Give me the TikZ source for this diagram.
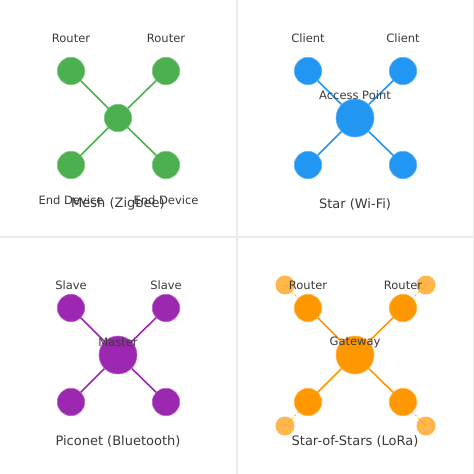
\documentclass[tikz,border=0pt]{standalone}
\usepackage{fontspec}
\setmainfont{DejaVu Sans}
\pgfdeclarelayer{back}
\pgfdeclarelayer{links}
\pgfsetlayers{back,links,main}
\begin{document}
\begin{tikzpicture}[x=1pt,y=-1pt,
  dev/.style={circle,fill=#1,draw=#1!70!white,line width=0.6pt,inner sep=0pt,minimum size=27.5pt},
  bighub/.style={circle,fill=#1,draw=#1!70!white,line width=0.6pt,inner sep=0pt,minimum size=38pt},
  subdev/.style={circle,fill=lora,fill opacity=0.7,inner sep=0pt,minimum size=19pt},
  lbl/.style={text=txt,font=\fontsize{11.5}{13}\selectfont,inner sep=0pt},
  ttl/.style={text=txt,font=\fontsize{13}{15}\selectfont,inner sep=0pt},
  link/.style={draw=#1,line width=1.6pt},
  sub/.style={draw=lora,line width=0.9pt,dash pattern=on 2.5pt off 2pt,opacity=0.7}]
\definecolor{mesh}{HTML}{4CAF50}
\definecolor{wifi}{HTML}{2196F3}
\definecolor{bt}{HTML}{9C27B0}
\definecolor{lora}{HTML}{FF9800}
\definecolor{txt}{HTML}{3A3A3A}
\definecolor{grid}{HTML}{EBEBEB}
\useasboundingbox (0,0) rectangle (474,474);
\begin{pgfonlayer}{back}
\fill[white] (0,0) rectangle (474,474);
\draw[grid,line width=1.6pt] (237,0) -- (237,474);
\draw[grid,line width=1.6pt] (0,237) -- (474,237);
\draw[grid,line width=0.8pt] (473.6,0) -- (473.6,474);
\end{pgfonlayer}

% ---- Mesh (Zigbee)
\node[dev=mesh] (mC) at (118,118) {};
\node[dev=mesh] (mA) at (71,71) {};
\node[dev=mesh] (mB) at (166,71) {};
\node[dev=mesh] (mD) at (71,165) {};
\node[dev=mesh] (mE) at (166,165) {};
\node[lbl] (mlA) at (71,38) {Router};
\node[lbl] (mlB) at (166,38) {Router};
\node[ttl] (mT) at (118,204) {Mesh (Zigbee)};
\node[lbl] (mlD) at (71,200) {End Device};
\node[lbl] (mlE) at (166,200) {End Device};

% ---- Star (Wi-Fi)
\node[bighub=wifi] (wC) at (355,118) {};
\node[dev=wifi] (wA) at (308,71) {};
\node[dev=wifi] (wB) at (403,71) {};
\node[dev=wifi] (wD) at (308,165) {};
\node[dev=wifi] (wE) at (403,165) {};
\node[lbl] (wlA) at (308,38) {Client};
\node[lbl] (wlB) at (403,38) {Client};
\node[ttl] (wT) at (355,204) {Star (Wi-Fi)};

% ---- Piconet (Bluetooth)
\node[bighub=bt] (bC) at (118,355) {};
\node[dev=bt] (bA) at (71,308) {};
\node[dev=bt] (bB) at (166,308) {};
\node[dev=bt] (bD) at (71,402) {};
\node[dev=bt] (bE) at (166,402) {};
\node[lbl] (blA) at (71,285) {Slave};
\node[lbl] (blB) at (166,285) {Slave};
\node[ttl] (bT) at (118,441) {Piconet (Bluetooth)};

% ---- Star-of-Stars (LoRa)
\node[bighub=lora] (lC) at (355,355) {};
\node[dev=lora] (lA) at (308,308) {};
\node[dev=lora] (lB) at (403,308) {};
\node[dev=lora] (lD) at (308,402) {};
\node[dev=lora] (lE) at (403,402) {};
\node[subdev] (sA) at (285,285) {};
\node[subdev] (sB) at (426,285) {};
\node[subdev] (sD) at (285,426) {};
\node[subdev] (sE) at (426,426) {};
\node[lbl] (llA) at (308,285) {Router};
\node[lbl] (llB) at (403,285) {Router};
\node[ttl] (lT) at (355,441) {Star-of-Stars (LoRa)};

\node[lbl] (wlC) at (355,95) {Access Point};
\node[lbl] (blC) at (118,342) {Master};
\node[lbl] (llC) at (355,342) {Gateway};

\begin{pgfonlayer}{links}
\foreach \c/\o/\col in {mC/mA/mesh,mC/mB/mesh,mC/mD/mesh,mC/mE/mesh,wC/wA/wifi,wC/wB/wifi,wC/wD/wifi,wC/wE/wifi,bC/bA/bt,bC/bB/bt,bC/bD/bt,bC/bE/bt,lC/lA/lora,lC/lB/lora,lC/lD/lora,lC/lE/lora}
  \draw[link=\col] (\c.center) -- (\o.center);
\draw[sub] (sA.center) -- (lA.center);
\draw[sub] (sB.center) -- (lB.center);
\draw[sub] (sD.center) -- (lD.center);
\draw[sub] (sE.center) -- (lE.center);
\end{pgfonlayer}
\end{tikzpicture}
\end{document}
